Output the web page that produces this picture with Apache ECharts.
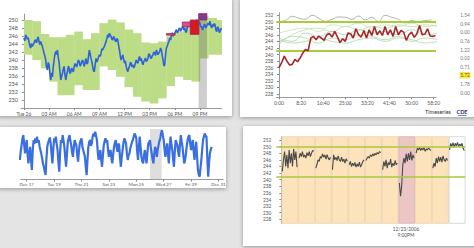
<!DOCTYPE html>
<html><head><meta charset="utf-8">
<script src="https://cdn.jsdelivr.net/npm/echarts@6/dist/echarts.min.js"></script>
<style>html,body{margin:0;padding:0;background:#e4e4e4;overflow:hidden}#c{width:474px;height:248px}</style>
</head><body><div id="c"></div>
<script>
// ---------- Panel 1 (one day, hourly band) ----------
const p1XTickHours = [0, 3, 6, 9, 12, 15, 18, 21];
const p1XTickLabels = ['Tue 26', '03 AM', '06 AM', '09 AM', '12 PM', '03 PM', '06 PM', '09 PM'];
const p1YTicks = [230, 232, 234, 236, 238, 240, 242, 244, 246, 248, 250];
const p1BandUpper = [250.0, 249.7, 246.5, 245.7, 245.7, 246.3, 247.1, 245.2, 246.7, 249.2, 250.1, 249.4, 247.6, 246.7, 244.4, 244.2, 244.6, 245.9, 247.1, 248.8, 249.4, 250.9, 250.5, 250.0];
const p1BandLower = [241.3, 240.0, 237.9, 234.6, 231.2, 231.2, 233.7, 232.5, 232.5, 238.4, 237.5, 235.8, 233.2, 230.8, 229.6, 229.1, 230.4, 233.5, 235.8, 235.0, 234.6, 240.4, 241.3, 241.3];
const p1LineStepHours = 0.1;
const p1Line = [
  245.5, 244.8, 246.3, 245.9, 245.2, 245.6, 244.6, 243.6, 243.0, 244.1, 243.4, 243.9, 244.2, 244.9, 245.0, 244.3, 245.2, 245.8, 244.6, 243.9,
  244.6, 244.0, 243.4, 242.6, 241.7, 241.0, 240.0, 238.2, 237.5, 239.4, 238.8, 236.6, 235.0, 236.8, 235.8, 238.2, 240.0, 241.4, 242.1, 241.4,
  242.5, 240.6, 239.2, 237.0, 235.0, 235.9, 236.7, 237.8, 238.4, 236.2, 235.0, 236.4, 237.1, 238.5, 237.9, 236.6, 237.1, 238.0, 237.5, 237.0,
  238.4, 239.1, 238.8, 238.2, 239.2, 240.0, 239.6, 238.5, 238.8, 239.6, 240.0, 239.1, 238.4, 239.5, 240.4, 239.0, 239.2, 240.8, 242.5, 241.6,
  240.4, 239.6, 238.4, 237.3, 237.1, 238.9, 240.4, 239.5, 240.0, 240.7, 241.3, 240.9, 241.7, 242.8, 242.5, 243.0, 243.4, 244.0, 244.6, 245.4,
  246.3, 245.6, 246.7, 246.2, 245.9, 245.2, 245.0, 245.9, 245.5, 244.8, 244.6, 245.4, 245.0, 243.6, 242.5, 241.0, 240.0, 240.6, 241.3, 240.3,
  239.2, 239.8, 238.4, 237.6, 237.1, 237.9, 238.4, 239.4, 239.2, 238.3, 238.8, 238.0, 238.4, 239.2, 240.0, 239.5, 239.2, 240.3, 240.9, 239.8,
  240.4, 239.4, 238.8, 239.6, 240.0, 240.5, 239.6, 239.9, 240.4, 241.6, 241.3, 240.6, 240.4, 241.0, 241.3, 242.0, 241.7, 241.1, 242.5, 241.9,
  241.3, 241.8, 242.1, 243.0, 242.5, 241.2, 240.0, 238.5, 238.8, 241.2, 243.0, 243.4, 244.2, 244.6, 245.5, 245.0, 246.3, 246.8, 245.9, 246.4,
  246.7, 247.2, 247.6, 246.8, 247.1, 247.8, 248.0, 247.2, 247.6, 248.2, 248.4, 247.5, 248.0, 246.9, 247.1, 248.2, 248.8, 248.3, 249.2, 248.6,
  248.4, 247.3, 247.6, 248.4, 248.0, 249.3, 250.1, 249.0, 248.8, 249.6, 249.2, 248.2, 248.4, 247.5, 248.0, 248.9, 248.8, 248.0, 248.4, 249.0,
  249.2, 248.7, 249.7, 248.6, 248.0, 248.9, 248.4, 249.1, 248.8, 247.6, 247.1, 248.3, 248.0, 246.9, 247.1, 247.9, 247.6
];
// alert blocks: [startHour, endHour, low, high]
const p1Alerts = [[17.0, 18.0, 246.2, 246.6], [18.9, 19.9, 248.3, 249.5], [19.85, 20.85, 246.4, 250.0], [20.85, 21.8, 250.0, 251.6]];
const p1AlertColors = ['#e0501c', '#d94f8a', '#d71920', '#7b3c8e'];
const p1Highlight = [20.85, 21.8];

// ---------- Panel 2 (one hour, seconds) ----------
const p2XTickSeconds = [0, 500, 1000, 1500, 2000, 2500, 3000, 3500];
const p2XTickLabels = ['0:00', '8:20', '16:40', '25:00', '33:20', '41:40', '50:00', '58:20'];
const p2YTicks = [228, 230, 232, 234, 236, 238, 240, 242, 244, 246, 248, 250, 252];
const p2Limits = [250, 241];
const p2RedStep = 60;
const p2Red = [
  236.0, 237.5, 239.5, 238.0, 236.8, 237.0, 238.5, 237.8, 239.0, 240.5,
  241.5, 241.2, 245.0, 245.5, 244.5, 245.6, 245.0, 244.3, 246.0, 246.4,
  245.3, 247.0, 245.4, 243.6, 244.8, 244.0, 246.5, 246.3, 245.0, 247.8,
  246.0, 245.3, 247.3, 245.0, 247.5, 245.8, 248.5, 246.0, 247.2, 245.8,
  248.5, 246.0, 247.5, 245.5, 248.5, 246.0, 247.3, 246.8, 244.3, 246.0,
  246.8, 245.2, 246.3, 248.8, 246.0, 246.2, 247.8, 245.6, 245.5, 245.8
];
const p2GrayStep = 150;
const p2Gray = [250.0, 250.4, 251.6, 251.0, 250.7, 251.9, 251.0, 250.1, 250.7, 251.4, 251.3, 250.7, 251.7, 250.5, 251.3, 250.0, 251.9, 251.3, 250.7, 249.6, 250.3, 250.0, 250.3, 250.5];
const p2FaintStep = 300;
const p2FaintA = [243.5, 246.0, 247.5, 248.0, 247.0, 248.5, 247.5, 248.5, 248.0, 249.0, 248.5, 249.0, 248.5];
const p2FaintB = [245.0, 244.0, 246.5, 245.5, 247.0, 246.0, 247.5, 246.5, 247.0, 246.0, 247.5, 246.0, 246.5];
const p2FaintC = [243.0, 245.5, 245.0, 243.5, 245.0, 244.5, 246.0, 245.5, 244.5, 245.5, 244.0, 245.0, 244.5];
const p2FaintD = [246.5, 247.5, 248.0, 247.0, 249.0, 248.5, 249.5, 248.0, 249.0, 248.5, 249.5, 248.5, 249.0];
const p2FaintE = [244.5, 243.5, 244.0, 245.0, 244.0, 243.5, 244.5, 245.0, 244.0, 245.0, 244.5, 243.5, 244.0];
const p2SideValues = ['1.54', '0.94', '0.00', '0.76', '1.22', '0.02', '0.71', '3.72', '1.78', '0.00'];
const p2SideHighlight = 7;
const p2Tabs = ['Timeseries', 'CDE'];

// ---------- Panel 3 (two weeks overview) ----------
const p3XTickDays = [0, 2, 4, 6, 8, 10, 12, 14];
const p3XTickLabels = ['Dec 17', 'Tue 19', 'Thu 21', 'Sat 23', 'Mon 25', 'Wed 27', 'Fri 29', 'Dec 31'];
const p3StartDay = -0.5;
const p3StepDays = 0.0625;
const p3Line = [
  235.9, 240.1, 242.9, 246.0, 247.6, 243.1, 239.0, 242.6, 245.3, 238.5, 234.3, 238.8, 242.1, 236.0, 231.2, 240.2, 245.3, 243.5, 246.1, 244.0,
  246.9, 244.2, 245.3, 242.4, 240.6, 238.9, 236.7, 234.1, 232.7, 230.6, 228.8, 236.4, 242.1, 244.0, 245.3, 246.5, 243.7, 238.8, 234.3, 240.8,
  246.1, 244.3, 246.9, 243.5, 240.6, 235.0, 230.4, 239.6, 245.3, 244.0, 247.6, 245.0, 242.1, 236.9, 232.7, 238.8, 244.5, 246.2, 247.6, 244.8,
  242.9, 239.5, 237.4, 241.9, 245.3, 244.0, 242.9, 238.2, 235.1, 240.0, 243.7, 245.1, 246.1, 242.3, 240.6, 239.0, 237.4, 232.5, 228.8, 236.0,
  242.1, 244.4, 245.3, 242.6, 243.7, 246.8, 248.4, 247.0, 249.2, 247.3, 245.3, 239.6, 235.9, 238.4, 240.6, 236.0, 232.7, 238.1, 242.9, 244.7,
  246.1, 244.2, 245.3, 240.6, 237.4, 239.9, 240.6, 236.5, 234.3, 238.6, 242.1, 244.0, 245.3, 242.0, 239.8, 243.6, 242.9, 236.8, 232.7, 237.5,
  240.6, 244.0, 246.1, 245.1, 243.7, 239.0, 235.9, 238.2, 239.0, 241.4, 242.9, 244.4, 245.3, 247.0, 248.4, 247.5, 246.1, 240.2, 235.9, 241.8,
  246.9, 242.0, 237.4, 235.2, 234.3, 238.0, 240.6, 236.8, 234.3, 239.5, 243.7, 244.2, 245.3, 241.5, 239.0, 236.1, 234.3, 238.9, 242.1, 240.5,
  237.4, 240.8, 242.9, 244.9, 246.1, 248.7, 250.0, 247.6, 245.3, 240.8, 237.4, 241.0, 243.7, 238.6, 234.3, 241.5, 246.9, 243.3, 240.6, 236.2,
  232.7, 240.0, 245.3, 243.9, 242.9, 239.5, 237.4, 243.0, 247.6, 244.5, 242.1, 237.8, 234.3, 236.0, 239.0, 242.6, 245.3, 246.9, 247.6, 243.6,
  240.6, 243.4, 245.3, 240.1, 235.9, 240.8, 244.5, 237.5, 231.2, 229.0, 228.0, 232.2, 235.9, 241.0, 245.3, 247.0, 248.4, 247.2, 246.9, 236.5,
  228.0, 234.6, 239.0, 240.8, 242.1
];
const p3Highlight = [9.0, 9.85];

// ---------- Panel 4 (small multiples) ----------
const p4YTicks = [228, 230, 232, 234, 236, 238, 240, 242, 244, 246, 248, 250, 252];
const p4Limits = [250, 241];
const p4Columns = [
  [242.5, 246.0, 248.5, 244.0, 247.5, 243.5, 249.0, 245.0, 248.0, 244.0, 249.3, 246.0, 248.5, 243.8],
  [246.5, 248.0, 247.0, 248.5, 246.8, 247.5, 246.5, 248.2, 247.2, 248.5, 247.0, 248.0, 248.8, 248.6],
  [243.5, 244.5, 246.0, 245.5, 247.0, 246.5, 247.8, 246.8, 247.5, 246.2, 247.6, 246.5, 246.0, 246.8],
  [243.0, 247.5, 246.0, 246.8, 245.8, 247.2, 246.0, 245.5, 246.8, 245.5, 246.2, 245.0, 246.3, 245.6],
  [244.5, 245.5, 244.0, 245.0, 244.2, 245.2, 243.8, 244.8, 244.0, 245.3, 243.8, 244.6, 245.5, 246.0],
  [245.8, 246.5, 247.0, 246.5, 247.5, 247.0, 247.8, 247.2, 248.0, 247.5, 248.2, 247.8, 248.5, 248.2],
  [243.0, 245.5, 244.0, 246.0, 243.5, 245.2, 244.5, 246.2, 243.8, 245.0, 244.2, 245.8, 244.5, 245.0],
  [239.0, 235.0, 238.0, 244.5, 246.5, 245.0, 247.8, 245.5, 248.0, 246.0, 248.5, 245.8, 247.5, 246.5],
  [248.0, 249.5, 249.0, 249.8, 248.8, 249.5, 249.0, 249.7, 248.6, 249.3, 249.0, 249.6, 249.2, 248.8],
  [243.5, 245.0, 244.0, 246.5, 245.0, 247.0, 245.5, 246.8, 245.3, 247.2, 246.0, 245.5, 246.5, 245.8],
  [249.0, 251.0, 250.0, 251.2, 249.8, 251.0, 250.2, 251.3, 250.0, 250.8, 250.2, 251.0, 249.5, 248.8]
];
const p4ColumnKinds = ['n', 'n', 'n', 'n', 'n', 'n', 'n', 'sel', 'n', 'n', 'cur'];
const p4SelectedLabel = ['12/23/2006', '9:00PM'];

// ================= build =================
const chart = echarts.init(document.getElementById('c'), null, { renderer: 'svg', width: 474, height: 248 });
const FONT = 'Lato, "Open Sans", sans-serif';
const lbl = (sz) => ({ fontSize: sz, color: '#555', fontFamily: FONT });

function rectItem(api, color, stroke) {
  const a = api.coord([api.value(0), api.value(3)]);
  const b = api.coord([api.value(1), api.value(2)]);
  return { type: 'rect', shape: { x: a[0], y: a[1], width: b[0] - a[0] + 0.3, height: b[1] - a[1] },
    style: { fill: color, stroke: stroke || null, lineWidth: stroke ? 0.8 : 0 } };
}

const p1XMax = 23.6;
const bandData = p1BandUpper.map((u, h) => [h, Math.min(h + 1, p1XMax), p1BandLower[h], u]);
const p1LineData = p1Line.map((v, i) => [i * p1LineStepHours, v]);
const p2RedData = p2Red.map((v, i) => [i * p2RedStep, v]);
const p2GrayData = p2Gray.map((v, i) => [i * p2GrayStep, v]);
const faint = (arr) => arr.map((v, i) => [i * p2FaintStep, v]);
const p3Data = p3Line.map((v, i) => [p3StartDay + i * p3StepDays, v]);

const series = [
  // Panel 1
  { type: 'custom', xAxisIndex: 0, yAxisIndex: 0, z: 1, silent: true, clip: true,
    renderItem: (p, api) => rectItem(api, '#bcdc86'), encode: { x: [0, 1], y: [2, 3] }, data: bandData },
  { type: 'custom', xAxisIndex: 0, yAxisIndex: 0, z: 2, silent: true,
    renderItem: (p, api) => rectItem(api, 'rgba(105,105,105,0.33)'), encode: { x: [0, 1], y: [2, 3] },
    data: [[p1Highlight[0], p1Highlight[1], 228, 251.6]] },
  { type: 'line', xAxisIndex: 0, yAxisIndex: 0, z: 3, showSymbol: false, silent: true,
    lineStyle: { color: '#2e63dc', width: 1.6 }, data: p1LineData },
  { type: 'custom', xAxisIndex: 0, yAxisIndex: 0, z: 4, silent: true,
    renderItem: (p, api) => rectItem(api, api.visual('color'), '#9a2a6a'), encode: { x: [0, 1], y: [2, 3] },
    data: p1Alerts.map((a, i) => ({ value: a, itemStyle: { color: p1AlertColors[i] } })) },
  // Panel 2
  { type: 'line', xAxisIndex: 1, yAxisIndex: 1, showSymbol: false, silent: true, smooth: true,
    lineStyle: { color: '#a3ada3', width: 0.9 }, data: p2GrayData },
  { type: 'line', xAxisIndex: 1, yAxisIndex: 1, showSymbol: false, silent: true, smooth: true, lineStyle: { color: '#b9dc9e', width: 0.8 }, data: faint(p2FaintA) },
  { type: 'line', xAxisIndex: 1, yAxisIndex: 1, showSymbol: false, silent: true, smooth: true, lineStyle: { color: '#a2d3ba', width: 0.8 }, data: faint(p2FaintB) },
  { type: 'line', xAxisIndex: 1, yAxisIndex: 1, showSymbol: false, silent: true, smooth: true, lineStyle: { color: '#b0d898', width: 0.8 }, data: faint(p2FaintC) },
  { type: 'line', xAxisIndex: 1, yAxisIndex: 1, showSymbol: false, silent: true, smooth: true, lineStyle: { color: '#c4e2ae', width: 0.8 }, data: faint(p2FaintD) },
  { type: 'line', xAxisIndex: 1, yAxisIndex: 1, showSymbol: false, silent: true, smooth: true, lineStyle: { color: '#a9d6ae', width: 0.8 }, data: faint(p2FaintE) },
  { type: 'line', xAxisIndex: 1, yAxisIndex: 1, showSymbol: false, silent: true, z: 5,
    lineStyle: { color: '#a8262a', width: 1.6 }, data: p2RedData,
    markLine: { silent: true, symbol: 'none', label: { show: false },
      lineStyle: { color: '#a6cc3a', width: 2, type: 'solid' },
      data: p2Limits.map(v => ({ yAxis: v })) } },
  // Panel 3
  { type: 'line', xAxisIndex: 2, yAxisIndex: 2, showSymbol: false, silent: true,
    lineStyle: { color: '#3a6fe2', width: 2.2 }, data: p3Data,
    markArea: { silent: true, itemStyle: { color: 'rgba(160,160,160,0.35)' },
      data: [[{ xAxis: p3Highlight[0] }, { xAxis: p3Highlight[1] }]] } },
  // Panel 4 columns
  { type: 'custom', xAxisIndex: 3, yAxisIndex: 3, silent: true, z: 1,
    renderItem: (p, api) => {
      const k = p4ColumnKinds[p.dataIndex];
      const fill = k === 'sel' ? '#ecc6c4' : (k === 'cur' ? '#ffffff' : '#fde3bb');
      const stroke = k === 'cur' ? '#cfcfcf' : (k === 'sel' ? '#d9b0ae' : '#ead2ad');
      return rectItem(api, fill, stroke);
    },
    encode: { x: [0, 1], y: [2, 3] },
    data: p4Columns.map((c, i) => [i + 0.03, i + 0.97, 226.8, 253]) }
];
p4Columns.forEach((col, i) => {
  series.push({ type: 'line', xAxisIndex: 3, yAxisIndex: 3, showSymbol: false, silent: true, z: 4,
    lineStyle: { color: '#4a4a4a', width: 1.1 },
    data: col.map((v, j) => [i + 0.06 + j * (0.88 / (col.length - 1)), v]),
    markLine: i === 0 ? { silent: true, symbol: 'none', label: { show: false },
      lineStyle: { color: '#a9c83e', width: 1.5, type: 'solid' },
      data: p4Limits.map(v => ({ yAxis: v })) } : undefined });
});

const axisLineStyle = { lineStyle: { color: '#9a9a9a', width: 1 } };

const option = {
  animation: false,
  backgroundColor: '#e4e4e4',
  grid: [
    { left: 21, top: 14, width: 200.7, height: 94, outerBoundsMode: 'none' },
    { left: 276.3, top: 12.7, width: 159.7, height: 84.6, outerBoundsMode: 'none' },
    { left: 20.7, top: 129, width: 202.3, height: 50.5, outerBoundsMode: 'none' },
    { left: 276.3, top: 136.7, width: 189, height: 86.6, outerBoundsMode: 'none' }
  ],
  xAxis: [
    { gridIndex: 0, type: 'value', min: -0.35, max: p1XMax, splitLine: { show: false }, axisLine: axisLineStyle,
      axisTick: { customValues: p1XTickHours, length: 2, lineStyle: { color: '#888' } },
      axisLabel: { ...lbl(5), margin: 3, customValues: p1XTickHours, formatter: v => p1XTickLabels[p1XTickHours.indexOf(v)] } },
    { gridIndex: 1, type: 'value', min: -61, max: 3552, splitLine: { show: false }, axisLine: axisLineStyle,
      axisTick: { customValues: p2XTickSeconds, length: 2, lineStyle: { color: '#888' } },
      axisLabel: { ...lbl(5), margin: 3, customValues: p2XTickSeconds, formatter: v => p2XTickLabels[p2XTickSeconds.indexOf(v)] } },
    { gridIndex: 2, type: 'value', min: -0.44, max: 14.33, splitLine: { show: false }, axisLine: axisLineStyle,
      axisTick: { customValues: p3XTickDays, length: 2, lineStyle: { color: '#888' } },
      axisLabel: { ...lbl(4.5), margin: 2, customValues: p3XTickDays, formatter: v => p3XTickLabels[p3XTickDays.indexOf(v)] } },
    { gridIndex: 3, type: 'value', min: -0.3, max: 11, show: false }
  ],
  yAxis: [
    { gridIndex: 0, type: 'value', min: 228, max: 251.5, splitLine: { show: false },
      axisLine: { show: true, ...axisLineStyle },
      axisTick: { show: true, customValues: p1YTicks, length: 2, lineStyle: { color: '#888' } },
      axisLabel: { ...lbl(5.5), margin: 3, customValues: p1YTicks } },
    { gridIndex: 1, type: 'value', min: 227, max: 252.7, splitLine: { show: false },
      axisLine: { show: true, ...axisLineStyle },
      axisTick: { show: true, customValues: p2YTicks, length: 2, lineStyle: { color: '#888' } },
      axisLabel: { ...lbl(4.8), margin: 3, customValues: p2YTicks } },
    { gridIndex: 2, type: 'value', min: 226.7, max: 250.5, show: false },
    { gridIndex: 3, type: 'value', min: 226.8, max: 253, splitLine: { show: false },
      axisLine: { show: true, ...axisLineStyle },
      axisTick: { show: true, customValues: p4YTicks, length: 2, lineStyle: { color: '#888' } },
      axisLabel: { ...lbl(4.8), margin: 5, customValues: p4YTicks } }
  ],
  graphic: {
    elements: [
      { type: 'rect', z: -10, silent: true, shape: { x: -2, y: -2, width: 234, height: 118 },
        style: { fill: '#fff', shadowBlur: 4, shadowColor: 'rgba(0,0,0,0.35)', shadowOffsetY: 1 } },
      { type: 'rect', z: -10, silent: true, shape: { x: 240, y: -2, width: 240, height: 119 },
        style: { fill: '#fff', shadowBlur: 4, shadowColor: 'rgba(0,0,0,0.35)', shadowOffsetY: 1 } },
      { type: 'rect', z: -10, silent: true, shape: { x: -2, y: 127, width: 228, height: 61 },
        style: { fill: '#fff', shadowBlur: 4, shadowColor: 'rgba(0,0,0,0.35)', shadowOffsetY: 1 } },
      { type: 'rect', z: -10, silent: true, shape: { x: 243, y: 126, width: 236, height: 120 },
        style: { fill: '#fff', shadowBlur: 4, shadowColor: 'rgba(0,0,0,0.35)', shadowOffsetY: 1 } },
      { type: 'rect', z: 50, silent: true, shape: { x: 459.5, y: 72, width: 11, height: 6.5 }, style: { fill: '#f7e84a' } },
      ...p2SideValues.map((t, i) => ({ type: 'text', z: 60, silent: true, x: 465, y: 15 + i * 8.63,
        style: { text: t, fontSize: 4.8, fill: i === p2SideHighlight ? '#6a5a00' : '#777', align: 'center', verticalAlign: 'middle', fontFamily: FONT } })),
      { type: 'text', z: 60, silent: true, x: 438, y: 112, style: { text: p2Tabs[0], fontSize: 5.5, fill: '#333', align: 'center', verticalAlign: 'middle', fontFamily: FONT } },
      { type: 'text', z: 60, silent: true, x: 462, y: 112, style: { text: p2Tabs[1], fontSize: 5.5, fill: '#1c2a8a', fontWeight: 'bold', align: 'center', verticalAlign: 'middle', fontFamily: FONT } },
      { type: 'rect', z: 60, silent: true, shape: { x: 458, y: 115, width: 8.5, height: 0.6 }, style: { fill: '#1c2a8a' } },
      { type: 'text', z: 60, silent: true, x: 406, y: 228.5, style: { text: p4SelectedLabel[0], fontSize: 4.8, fill: '#555', align: 'center', verticalAlign: 'middle', fontFamily: FONT } },
      { type: 'text', z: 60, silent: true, x: 406, y: 235, style: { text: p4SelectedLabel[1], fontSize: 4.8, fill: '#555', align: 'center', verticalAlign: 'middle', fontFamily: FONT } }
    ]
  },
  series
};
chart.setOption(option);
</script>
</body></html>
